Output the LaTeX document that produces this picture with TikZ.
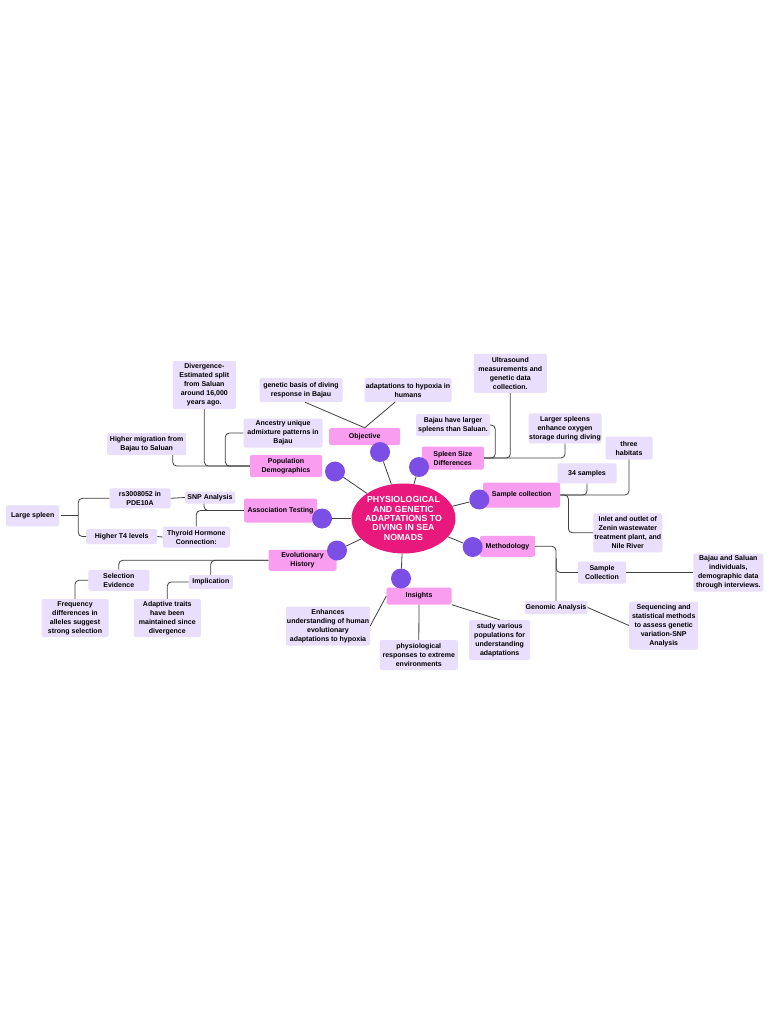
\documentclass[tikz,border=0pt]{standalone}
\usepackage{fontspec}
\setmainfont{Liberation Sans}
\usetikzlibrary{shapes.geometric,calc}
\definecolor{pinkbox}{HTML}{F99DF0}
\definecolor{lav}{HTML}{E9DEFB}
\definecolor{hub}{HTML}{E8187C}
\definecolor{violet}{HTML}{7B4FE6}
\definecolor{linec}{HTML}{404040}
\begin{document}
\begin{tikzpicture}[x=1pt,y=-1pt,
  mainbox/.style={rectangle, rounded corners=2pt, fill=pinkbox, inner sep=0pt, align=center, font=\fontsize{7}{9}\selectfont\bfseries},
  subbox/.style={rectangle, rounded corners=2pt, fill=lav, inner sep=0pt, align=center, font=\fontsize{7}{9}\selectfont\bfseries},
  sz/.style 2 args={minimum width=#1, minimum height=#2},
  conn/.style={draw=linec, line width=0.8pt, rounded corners=4pt},
  dot/.style={circle, fill=violet, minimum size=20pt, inner sep=0pt}]
\useasboundingbox (0,0) rectangle (768,1024);
\fill[white] (0,0) rectangle (768,1024);

% hub
\node[ellipse, fill=hub, minimum width=104pt, minimum height=70pt, inner sep=0pt] (hubn) at (403.5,518.5) {};
\node[text=white, align=center, inner sep=0pt, font=\fontsize{8.8}{9.4}\selectfont\bfseries] (hubtext) at (403.5,518.5) {PHYSIOLOGICAL\\AND GENETIC\\ADAPTATIONS TO\\DIVING IN SEA\\NOMADS};

% main boxes
\node[mainbox, sz={71pt}{17pt}] (obj) at (364.7,436.5) {Objective};
\node[mainbox, sz={72pt}{22pt}] (pop) at (286,466) {Population\\Demographics};
\node[mainbox, sz={62pt}{23pt}] (spl) at (452.8,458) {Spleen Size\\Differences};
\node[mainbox, sz={77pt}{25pt}] (sam) at (521.7,495) {Sample collection};
\node[mainbox, sz={55pt}{21pt}] (met) at (507.5,546.3) {Methodology};
\node[mainbox, sz={73pt}{24pt}] (ass) at (280.5,510.5) {Association Testing};
\node[mainbox, sz={68pt}{21pt}] (evo) at (302.5,560.3) {Evolutionary\\History};
\node[mainbox, sz={65pt}{17pt}] (ins) at (419,596) {Insights};

% sub boxes
\node[subbox, sz={83pt}{24pt}] (g1) at (301,390) {genetic basis of diving\\response in Bajau};
\node[subbox, sz={87pt}{24pt}] (g2) at (408,390) {adaptations to hypoxia in\\humans};
\node[subbox, sz={79pt}{29pt}] (anc) at (283,433) {Ancestry unique\\admixture patterns in\\Bajau};
\node[subbox, sz={63pt}{48pt}] (div) at (204.3,385) {Divergence-\\Estimated split\\from Saluan\\around 16,000\\years ago.};
\node[subbox, sz={79pt}{22pt}] (hig) at (146.7,444) {Higher migration from\\Bajau to Saluan};
\node[subbox, sz={74pt}{22pt}] (baj) at (453,425) {Bajau have larger\\spleens than Saluan.};
\node[subbox, sz={73pt}{39pt}] (ult) at (510.3,373.3) {Ultrasound\\measurements and\\genetic data\\collection.};
\node[subbox, sz={73pt}{30pt}] (lsp) at (565,428.3) {Larger spleens\\enhance oxygen\\storage during diving};
\node[subbox, sz={59pt}{20pt}] (s34) at (587,473.3) {34 samples};
\node[subbox, sz={47pt}{23pt}] (hab) at (629,448) {three\\habitats};
\node[subbox, sz={69pt}{39pt}] (inl) at (627.8,532.8) {Inlet and outlet of\\Zenin wastewater\\treatment plant, and\\Nile River};
\node[subbox, sz={48pt}{22pt}] (sco) at (602,572.5) {Sample\\Collection};
\node[subbox, sz={70pt}{38pt}] (bsa) at (728.3,572.5) {Bajau and Saluan\\individuals,\\demographic data\\through interviews.};
\node[subbox, sz={63pt}{13pt}] (gen) at (556,607.5) {Genomic Analysis};
\node[subbox, sz={69pt}{48pt}] (seq) at (663.7,625.5) {Sequencing and\\statistical methods\\to assess genetic\\variation-SNP\\Analysis};
\node[subbox, sz={50pt}{12pt}] (snp) at (210,497.5) {SNP Analysis};
\node[subbox, sz={61pt}{20pt}] (rs) at (140,498.3) {rs3008052 in\\PDE10A};
\node[subbox, sz={53pt}{21pt}] (lsl) at (32.7,515.8) {Large spleen};
\node[subbox, sz={67pt}{21pt}] (thy) at (196.3,537) {Thyroid Hormone\\Connection:};
\node[subbox, sz={71pt}{15pt}] (t4) at (121.7,536.5) {Higher T4 levels};
\node[subbox, sz={61pt}{21pt}] (sel) at (118.8,580.3) {Selection\\Evidence};
\node[subbox, sz={44pt}{14pt}] (imp) at (210.8,582) {Implication};
\node[subbox, sz={67pt}{38pt}] (frq) at (75,618) {Frequency\\differences in\\alleles suggest\\strong selection};
\node[subbox, sz={67pt}{38pt}] (ada) at (167.3,618) {Adaptive traits\\have been\\maintained since\\divergence};
\node[subbox, sz={84pt}{39pt}] (enh) at (328,626) {Enhances\\understanding of human\\evolutionary\\adaptations to hypoxia};
\node[subbox, sz={78pt}{30pt}] (phy) at (418.8,655) {physiological\\responses to extreme\\environments};
\node[subbox, sz={61pt}{40pt}] (stu) at (499.7,640) {study various\\populations for\\understanding\\adaptations};

% circles
\node[dot] (cobj) at (380,452) {};
\node[dot] (cpop) at (335,471.5) {};
\node[dot] (cspl) at (419,467) {};
\node[dot] (cass) at (322,518.5) {};
\node[dot] (csam) at (479.3,499.5) {};
\node[dot] (cevo) at (337,550.5) {};
\node[dot] (cmet) at (472.7,547) {};
\node[dot] (cins) at (401,578.5) {};

% circle to hub
\foreach \c in {cobj,cpop,cspl,cass,csam,cevo,cmet,cins}
  \draw[conn] (\c) -- (hubn);

% objective
\draw[conn] (obj.north) -- ([xshift=4pt]g1.south);
\draw[conn] (obj.north) -- ([xshift=-13pt]g2.south);

% population
\draw[conn] (pop.west) -| ([xshift=26pt]hig.south);
\draw[conn] (div.south) |- (pop.west);
\draw[conn] (anc.west) -- ++(-18pt,0) |- (pop.west);

% spleen
\draw[conn] (spl.east) -| (lsp.south);
\draw[conn] (ult.south) |- (spl.east);
\draw[conn] (baj.east) -- ++(5pt,0) |- (spl.east);

% sample collection
\draw[conn] (sam.east) -| (hab.south);
\draw[conn] (s34.south) |- (sam.east);
\draw[conn] (sam.east) -- ++(8pt,0) |- (inl.west);

% methodology
\draw[conn] (met.east) -| (gen.north);
\draw[conn] ($(met.east)+(21pt,-12pt)$) |- (sco.west);
\draw[conn] (sco.east) -- (bsa.west);
\draw[conn] (gen.east) -- (seq.west);

% association
\draw[conn] (ass.west) -| ([xshift=-6pt]snp.south);
\draw[conn] (thy.north) |- (ass.west);
\draw[conn] (snp.west) -- (rs.east);
\draw[conn] (rs.west) -- ++(-31pt,0) |- (t4.west);
\draw[conn] ([xshift=2pt]lsl.east) -- ++(17pt,0);
\draw[conn] (thy.west) -- (t4.east);

% evolutionary
\draw[conn] (evo.west) -| (sel.north);
\draw[conn] (imp.north) |- (evo.west);
\draw[conn] (sel.west) -| (frq.north);
\draw[conn] (imp.west) -| (ada.north);

% insights
\draw[conn] (ins.west) -- (enh.east);
\draw[conn] (ins.south) -- (phy.north);
\draw[conn] (ins.south east) -- (stu.north);
\end{tikzpicture}
\end{document}
